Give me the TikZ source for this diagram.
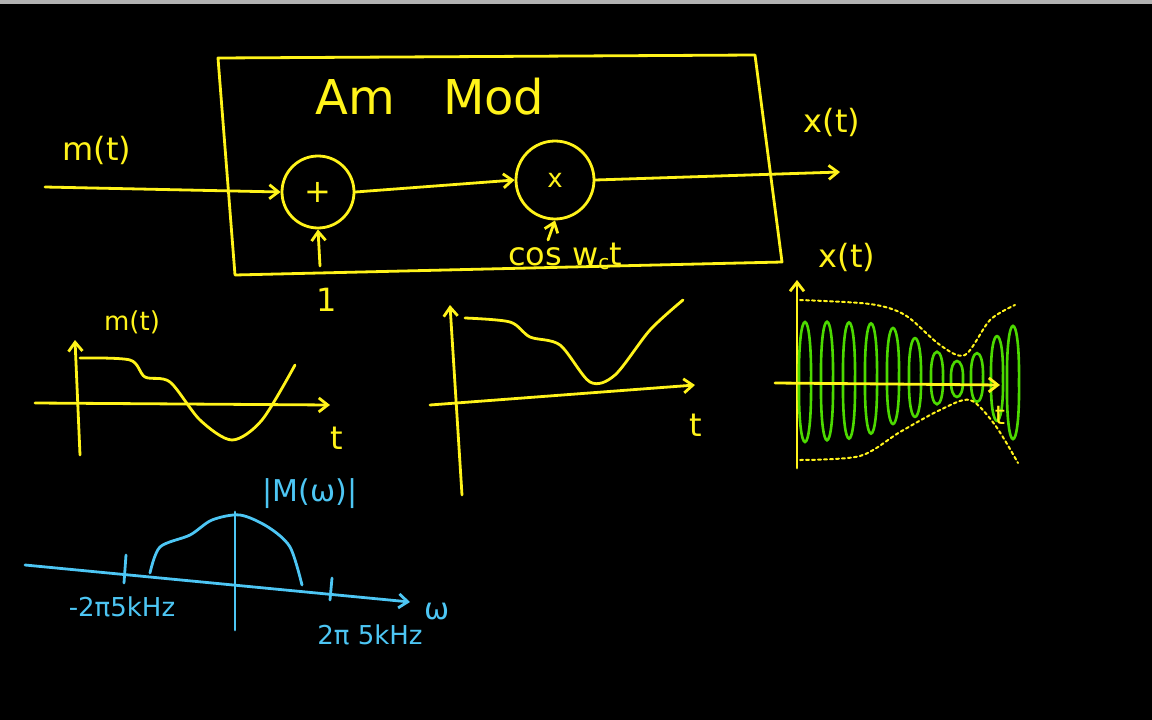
\documentclass[tikz,border=0pt]{standalone}
\usepackage{fontspec}
\usetikzlibrary{arrows.meta}
\setmainfont{DejaVu Sans}
\begin{document}
\begin{tikzpicture}[x=1pt,y=-1pt,
  yl/.style={draw=yellow!90!white,line width=2.8pt,line cap=round,line join=round},
  cy/.style={draw=cyan!70!white,line width=2.8pt,line cap=round},
  gr/.style={draw=green!75!black!60!lime,line width=2.6pt},
  ytx/.style={text=yellow!90!white,font=\fontsize{32}{32}\selectfont},
  ctx/.style={text=cyan!70!white,font=\fontsize{30}{30}\selectfont},
  arr/.style={-{Straight Barb[length=9pt,width=14pt]}}]
\fill[black] (0,0) rectangle (1152,720);
\fill[gray!60] (0,0) rectangle (1152,4);
\useasboundingbox (0,0) rectangle (1152,720);
% box
\draw[yl] (218,58) -- (755,55) -- (782,262) -- (235,275) -- cycle;
\node[ytx,font=\fontsize{48}{48}\selectfont] (title) at (430,97) {Am\quad Mod};
% adder and multiplier
\node[yl,circle,minimum size=72] (add) at (318,192) {};
\node[ytx] at (add) {+};
\node[yl,circle,minimum size=78] (mul) at (555,180) {};
\node[ytx,font=\fontsize{26}{26}\selectfont] at (mul) {x};
\coordinate (in) at (45,187);
\coordinate (out) at (840,172);
\node[ytx] (mt) at (97,150) {m(t)};
\node[ytx] (xt) at (832,122) {x(t)};
\draw[yl,arr] (in) -- (add.west);
\draw[yl,arr] (add.east) -- (mul.west);
\draw[yl,arr] (mul.east) -- (out);
\node[ytx] (one) at (327,300) {1};
\draw[yl,arr] (320,266) -- (add.south);
\node[ytx] (cos) at (565,256) {cos w\raisebox{-4pt}{\fontsize{20}{20}\selectfont c}t};
\draw[yl,arr] (548,240) -- (mul.south);
% plot 1
\draw[yl,arr] (35,403) -- (330,405);
\draw[yl,arr] (80,455) -- (75,340);
\node[ytx,font=\fontsize{26}{26}\selectfont] (mt2) at (132,322) {m(t)};
\node[ytx] (t1) at (337,438) {t};
\draw[yl] plot[smooth] coordinates {(80,358) (130,360) (145,377) (170,382) (200,420) (232,440) (262,420) (295,365)};
% plot 2
\draw[yl,arr] (462,495) -- (450,305);
\draw[yl,arr] (430,405) -- (695,385);
\node[ytx] (t2) at (696,425) {t};
\draw[yl] plot[smooth] coordinates {(465,318) (510,322) (530,337) (560,345) (590,382) (615,375) (650,330) (683,300)};
% plot 3
\node[ytx] (xt2) at (847,257) {x(t)};
\draw[yl,arr] (797,468) -- (797,280);
\foreach \x/\t/\b in {805/302/462,827/302/460,849/303/458,871/305/452,893/312/440,915/325/430,937/343/413,957/355/403,977/345/410,997/322/435,1013/307/458}{
  \draw[gr] (\x-6,{(\t+\b)/2}) .. controls (\x-7,\t) and (\x+7,\t) .. (\x+6,{(\t+\b)/2}) .. controls (\x+7,\b) and (\x-7,\b) .. (\x-6,{(\t+\b)/2});
}
\draw[yl,arr] (775,383) -- (1000,385);
\draw[yl,dashed,line width=2pt] plot[smooth] coordinates {(800,300) (870,304) (905,315) (940,345) (965,355) (990,320) (1015,305)};
\draw[yl,dashed,line width=2pt] plot[smooth] coordinates {(800,460) (860,456) (900,432) (940,410) (970,400) (995,425) (1018,463)};
\node[ytx,font=\fontsize{26}{26}\selectfont] (t3) at (1000,415) {t};
% spectrum
\draw[cy,arr] (25,565) -- (410,602);
\node[ctx] (w) at (437,612) {ω};
\draw[cy] (235,512) -- (235,630);
\draw[cy] (126,555) -- (124,583);
\draw[cy] (332,578) -- (330,600);
\draw[cy] plot[smooth] coordinates {(150,573) (160,547) (190,535) (212,520) (240,515) (268,527) (290,547) (302,585)};
\node[ctx] (Mw) at (310,494) {|M(ω)|};
\node[ctx,font=\fontsize{26}{26}\selectfont] (l1) at (122,607) {-2π5kHz};
\node[ctx,font=\fontsize{26}{26}\selectfont] (l2) at (370,635) {2π 5kHz};
\end{tikzpicture}
\end{document}
